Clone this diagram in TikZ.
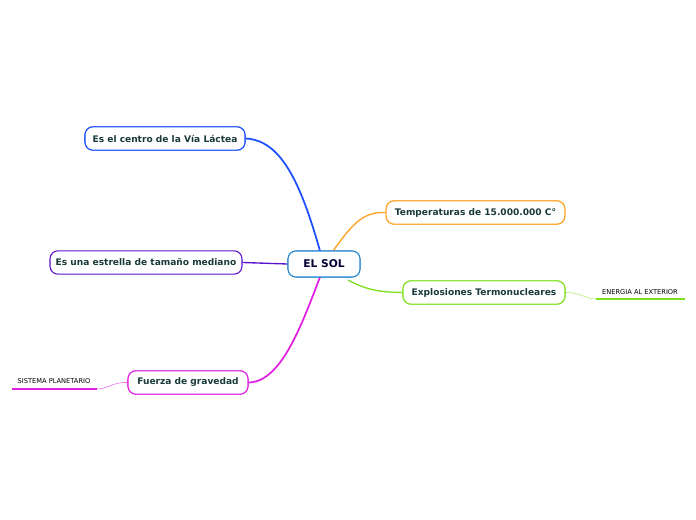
\documentclass[tikz,border=0pt]{standalone}
\usepackage{fontspec}
\setmainfont{DejaVu Sans}
\begin{document}
\begin{tikzpicture}[x=0.75pt,y=-0.75pt]
\definecolor{cblue}{HTML}{1A4FFF}
\definecolor{corange}{HTML}{FFA020}
\definecolor{cpurple}{HTML}{5A10D0}
\definecolor{cgreen}{HTML}{80E020}
\definecolor{cmag}{HTML}{E020E0}
\definecolor{ctxt}{HTML}{1A3A3A}
\definecolor{ccent}{HTML}{2A8AD0}
\useasboundingbox (0,0) rectangle (696,520);
\tikzset{topic/.style={draw,rounded corners=6pt,line width=0.8pt,fill=white,text=ctxt,font=\bfseries\fontsize{6.8}{8}\selectfont,inner sep=0pt,minimum height=17.5pt},
 sub/.style={text=black,font=\fontsize{5}{6}\selectfont,inner sep=1pt}}
\node[topic,draw=ccent,minimum width=54pt,minimum height=19.5pt,font=\bfseries\fontsize{8}{10}\selectfont,text=black!80!blue] (sol) at (324,264) {EL SOL};
\node[topic,draw=cblue,minimum width=120pt] (a) at (165,138.5) {Es el centro de la Vía Láctea};
\node[topic,draw=corange,minimum width=134pt] (b) at (475.5,212.5) {Temperaturas de 15.000.000 C°};
\node[topic,draw=cpurple,minimum width=144pt] (c) at (146,262.5) {Es una estrella de tamaño mediano};
\node[topic,draw=cgreen,minimum width=121.5pt] (d) at (484,292.5) {Explosiones Termonucleares};
\node[topic,draw=cmag,minimum width=90pt] (e) at (188,382.5) {Fuerza de gravedad};
\node[sub] (s1) at (54,381) {SISTEMA PLANETARIO};
\node[sub] (s2) at (640,292) {ENERGIA AL EXTERIOR};
\coordinate (s1l) at (12,389); \coordinate (s1r) at (97,389);
\coordinate (s2l) at (596,299); \coordinate (s2r) at (685,299);
\begin{scope}[on background layer/.style={}]
\draw[cblue,line width=1.3pt] (320,251) .. controls (300,180) and (280,140) .. (a.east);
\draw[corange,line width=1pt] (333,251) .. controls (355,220) and (365,212) .. (b.west);
\draw[cpurple,line width=1pt] (sol.west) -- (c.east);
\draw[cgreen,line width=1pt] (348,280) .. controls (370,292) and (385,292) .. (d.west);
\draw[cmag,line width=1.3pt] (320,277) .. controls (300,330) and (280,382) .. (e.east);
\draw[cgreen!70,line width=0.4pt] (d.east) .. controls (580,292) and (585,299) .. (s2l);
\draw[cmag!70,line width=0.4pt] (e.west) .. controls (112,382) and (108,389) .. (s1r);
\end{scope}
\draw[cgreen,line width=1.5pt] (s2l) -- (s2r);
\draw[cmag,line width=1.5pt] (s1l) -- (s1r);
\node[topic,draw=ccent,minimum width=54pt,minimum height=19.5pt,font=\bfseries\fontsize{8}{10}\selectfont,text=black!80!blue] at (324,264) {EL SOL};
\node[topic,draw=cblue,minimum width=120pt] at (165,138.5) {Es el centro de la Vía Láctea};
\node[topic,draw=corange,minimum width=134pt] at (475.5,212.5) {Temperaturas de 15.000.000 C°};
\node[topic,draw=cgreen,minimum width=121.5pt] at (484,292.5) {Explosiones Termonucleares};
\node[topic,draw=cmag,minimum width=90pt] at (188,382.5) {Fuerza de gravedad};
\end{tikzpicture}
\end{document}
